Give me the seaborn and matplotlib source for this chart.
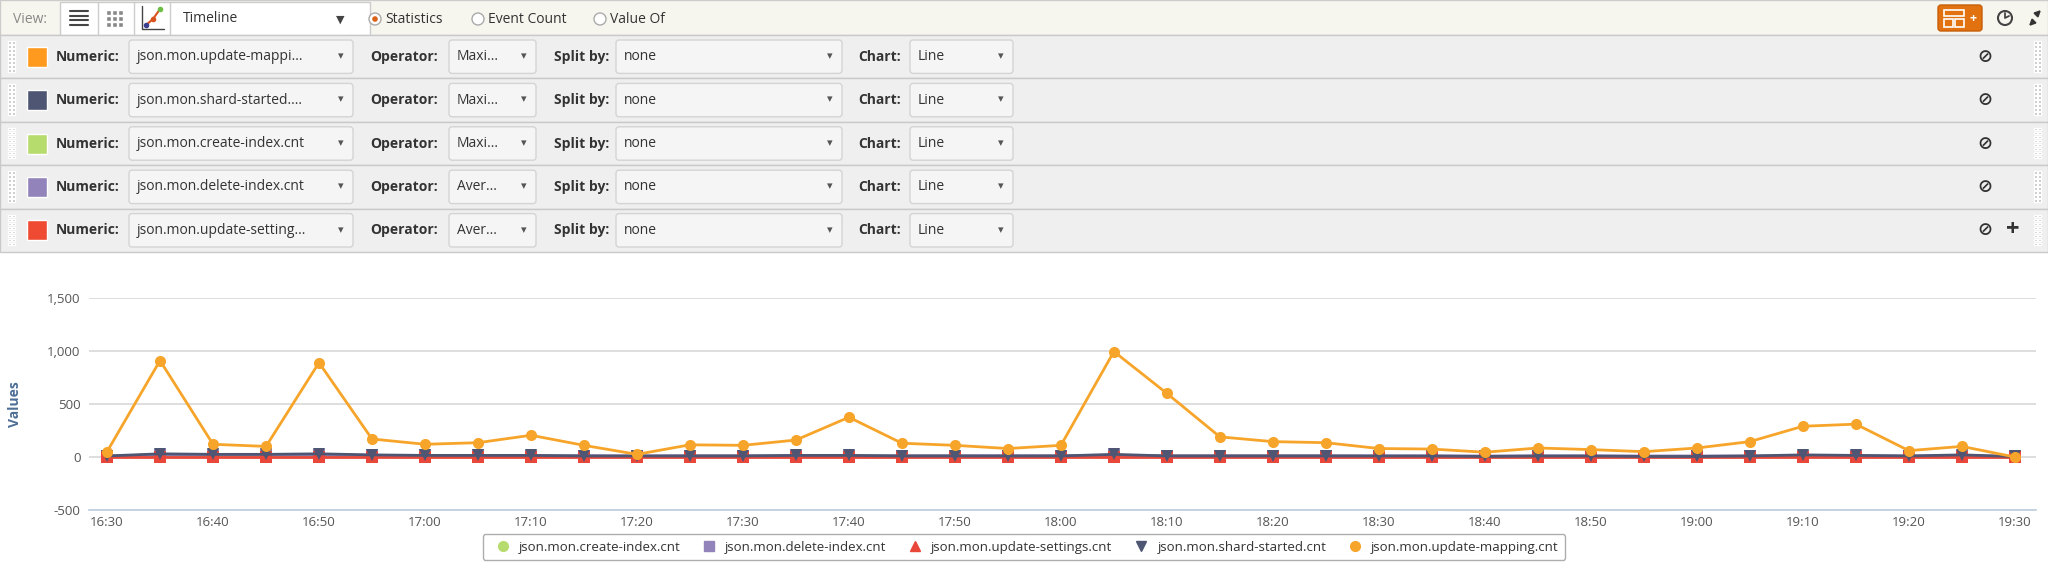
import numpy as np
import pandas as pd
import matplotlib
matplotlib.use("Agg")
import matplotlib.pyplot as plt
import matplotlib.dates as mdates
from matplotlib.patches import Rectangle, FancyBboxPatch, Circle
import seaborn as sns

sns.set_theme(style="white")
plt.rcParams["font.family"] = ["Open Sans", "DejaVu Sans"]

####################################################################
# data
times = pd.date_range("2014-01-01 16:30", "2014-01-01 19:30", freq="5min")

update_mapping = [50, 910, 120, 100, 890, 170, 120, 135, 205, 110, 25, 115, 110,
                  160, 375, 130, 110, 80, 110, 995, 600, 190, 145, 135, 80, 75,
                  45, 85, 70, 50, 85, 145, 290, 310, 60, 100, 0]
shard_started = [10, 30, 25, 25, 30, 20, 15, 15, 15, 10, 10, 10, 10, 15, 15, 10,
                 10, 10, 10, 25, 10, 10, 10, 10, 10, 10, 5, 10, 10, 5, 5, 10, 20,
                 15, 10, 20, 5]
delete_index = [10, 20, 20, 20, 20, 15, 15, 15, 12, 12, 10, 12, 12, 12, 12, 12,
                12, 12, 12, 15, 12, 12, 12, 12, 10, 10, 10, 10, 10, 10, 10, 10,
                12, 12, 10, 12, 5]
create_index = [5] * 36 + [0]
update_settings = [0] * 37

series_names = ["json.mon.create-index.cnt", "json.mon.delete-index.cnt",
                "json.mon.update-settings.cnt", "json.mon.shard-started.cnt",
                "json.mon.update-mapping.cnt"]
series_values = [create_index, delete_index, update_settings, shard_started, update_mapping]

row_colors = ["#FF9A1E", "#4E5673", "#B7DC6E", "#9283BA", "#EE4B32"]
row_metrics = ["json.mon.update-mappi...", "json.mon.shard-started....",
               "json.mon.create-index.cnt", "json.mon.delete-index.cnt",
               "json.mon.update-setting..."]
row_ops = ["Maxi...", "Maxi...", "Maxi...", "Aver...", "Aver..."]
y_ticks = [-500, 0, 500, 1000, 1500]
####################################################################

line_colors = {"json.mon.create-index.cnt": "#B7DC6E",
               "json.mon.delete-index.cnt": "#9283BA",
               "json.mon.update-settings.cnt": "#E8473A",
               "json.mon.shard-started.cnt": "#4E5673",
               "json.mon.update-mapping.cnt": "#F7A52A"}
line_markers = {"json.mon.create-index.cnt": "o",
                "json.mon.delete-index.cnt": "s",
                "json.mon.update-settings.cnt": "s",
                "json.mon.shard-started.cnt": "v",
                "json.mon.update-mapping.cnt": "o"}

W, H = 2048, 569
fig = plt.figure(figsize=(W / 100, H / 100), dpi=100)
fig.patch.set_facecolor("white")

# UI layer in pixel coordinates
ui = fig.add_axes([0, 0, 1, 1])
ui.set_xlim(0, W)
ui.set_ylim(H, 0)
ui.axis("off")

txt = "#333333"
# toolbar
ui.add_patch(Rectangle((0, 0), W, 35, fc="#F7F6EE", ec="#CCCCCC", lw=1))
ui.text(13, 19, "View:", va="center", fontsize=10, color="#888888")
ui.add_patch(Rectangle((60, 2), 310, 33, fc="white", ec="#CCCCCC", lw=1))
ui.plot([98, 98], [2, 35], color="#CCCCCC", lw=1)
ui.plot([134, 134], [2, 35], color="#CCCCCC", lw=1)
ui.plot([170, 170], [2, 35], color="#CCCCCC", lw=1)
for i in range(4):
    ui.plot([70, 88], [11 + i * 4.5, 11 + i * 4.5], color="#444444", lw=1.5)
for i in range(3):
    for j in range(3):
        ui.add_patch(Rectangle((106 + j * 6, 10 + i * 6), 4.5, 4.5, fc="#888888"))
ui.plot([142, 142, 164], [6, 29, 29], color="#444444", lw=1)
ui.plot([146, 153, 160], [25, 19, 9], color="#D9531E", lw=1.5)
ui.plot([146], [25], "o", color="#3A3F8F", ms=3)
ui.plot([153], [19], "o", color="#D9531E", ms=3)
ui.plot([160], [9], "o", color="#6DBE45", ms=3)
ui.text(183, 18, "Timeline", va="center", fontsize=10, color=txt)
ui.text(340, 20, "▼", va="center", ha="center", fontsize=8, color="#444444")
for x, lab, on in [(375, "Statistics", True), (478, "Event Count", False), (600, "Value Of", False)]:
    ui.add_patch(Circle((x, 19), 6, fc="white", ec="#AAAAAA", lw=1))
    if on:
        ui.add_patch(Circle((x, 19), 3.5, fc="#D9621A"))
    ui.text(x + 10, 19, lab, va="center", fontsize=10, color=txt)
# right toolbar icons
ui.add_patch(FancyBboxPatch((1938, 5), 44, 26, boxstyle="round,pad=0,rounding_size=3",
                            fc="#E2720F", ec="#C55F0A"))
ui.add_patch(Rectangle((1944, 10), 20, 6, fc="none", ec="white", lw=1.2))
ui.add_patch(Rectangle((1944, 19), 9, 8, fc="none", ec="white", lw=1.2))
ui.add_patch(Rectangle((1955, 19), 9, 8, fc="none", ec="white", lw=1.2))
ui.text(1973, 18, "+", va="center", ha="center", fontsize=9, weight="bold", color="white")
ui.add_patch(Circle((2005, 18), 7, fc="none", ec="#444444", lw=1.5))
ui.plot([2005, 2005, 2009], [13, 18, 16], color="#444444", lw=1.3)
ui.annotate("", xy=(2043, 8), xytext=(2035, 16),
            arrowprops=dict(arrowstyle="-|>", color="#333333", lw=1.5, mutation_scale=8))
ui.annotate("", xy=(2027, 28), xytext=(2035, 20),
            arrowprops=dict(arrowstyle="-|>", color="#333333", lw=1.5, mutation_scale=8))

# series rows
row_h = 43.4
for k in range(5):
    y0 = 35 + k * row_h
    yc = y0 + row_h / 2
    ui.add_patch(Rectangle((0, y0), W, row_h, fc="#EFEFEF", ec="#C9C9C9", lw=1))
    for i in range(8):
        for j in range(2):
            ui.add_patch(Rectangle((8 + j * 4, y0 + 6 + i * 4), 2.5, 2.5, fc="#B5B5B5"))
            ui.add_patch(Rectangle((2034 + j * 4, y0 + 6 + i * 4), 2.5, 2.5, fc="#B5B5B5"))
    ui.add_patch(Rectangle((27, yc - 10), 20, 20, fc=row_colors[k]))
    ui.text(56, yc, "Numeric:", va="center", fontsize=10, weight="bold", color=txt)
    for x0, x1, lab in [(129, 353, row_metrics[k]), (449, 536, row_ops[k]),
                        (616, 842, "none"), (910, 1013, "Line")]:
        ui.add_patch(FancyBboxPatch((x0, y0 + 5), x1 - x0, row_h - 10,
                                    boxstyle="round,pad=0,rounding_size=3",
                                    fc="#F5F5F5", ec="#D4D4D4", lw=1))
        ui.text(x0 + 8, yc, lab, va="center", fontsize=10, color=txt)
        ui.text(x1 - 12, yc, "▾", va="center", ha="center", fontsize=8, color="#555555")
    ui.text(370, yc, "Operator:", va="center", fontsize=10, weight="bold", color=txt)
    ui.text(554, yc, "Split by:", va="center", fontsize=10, weight="bold", color=txt)
    ui.text(858, yc, "Chart:", va="center", fontsize=10, weight="bold", color=txt)
    ui.text(1985, yc, "⊘", va="center", ha="center", fontsize=13, weight="bold", color="#333333")
    if k == 4:
        ui.text(2013, yc, "+", va="center", ha="center", fontsize=17, weight="bold", color="#333333")

# chart
ax_l, ax_r, ax_t, ax_b = 89, 2036, 298, 510
ax = fig.add_axes([ax_l / W, 1 - ax_b / H, (ax_r - ax_l) / W, (ax_b - ax_t) / H])
ax.set_facecolor("none")
for name, vals in zip(series_names, series_values):
    df = pd.DataFrame({"time": times, "value": vals})
    sns.lineplot(data=df, x="time", y="value", ax=ax, color=line_colors[name],
                 marker=line_markers[name], markersize=8, markeredgewidth=0,
                 linewidth=2, label=name, clip_on=False, legend=False)

ax.set_ylim(-500, 1500)
ax.set_yticks(y_ticks)
ax.set_yticklabels([f"{v:,}" for v in y_ticks])
ax.set_xlim(times[0] - pd.Timedelta(minutes=1.7), times[-1] + pd.Timedelta(minutes=2))
ax.xaxis.set_major_locator(mdates.MinuteLocator(byminute=[0, 10, 20, 30, 40, 50]))
ax.xaxis.set_major_formatter(mdates.DateFormatter("%H:%M"))
ax.grid(axis="y", color="#D8D8D8", lw=1.2)
ax.set_axisbelow(True)
for s in ["top", "right", "left"]:
    ax.spines[s].set_visible(False)
ax.spines["bottom"].set_color("#C0D0E0")
ax.tick_params(axis="both", length=0, labelsize=9.5, labelcolor="#555555", pad=6)
ax.tick_params(axis="x", pad=4)
ax.set_xlabel("")
ax.set_ylabel("Values", fontsize=10, weight="bold", color="#4D6E96", labelpad=18)

handles = [plt.Line2D([], [], ls="", marker=m, color=line_colors[n], ms=7)
           for n, m in zip(series_names, ["o", "s", "^", "v", "o"])]
leg = fig.legend(handles, series_names, loc="center", ncol=5,
                 bbox_to_anchor=(1024 / W, 1 - 547 / H), fontsize=9.5,
                 frameon=True, handletextpad=0.2, columnspacing=1.2, borderpad=0.5)
leg.get_frame().set_edgecolor("#999999")
leg.get_frame().set_linewidth(1)
for t in leg.get_texts():
    t.set_color("#333333")

fig.savefig("out.png", dpi=100)
